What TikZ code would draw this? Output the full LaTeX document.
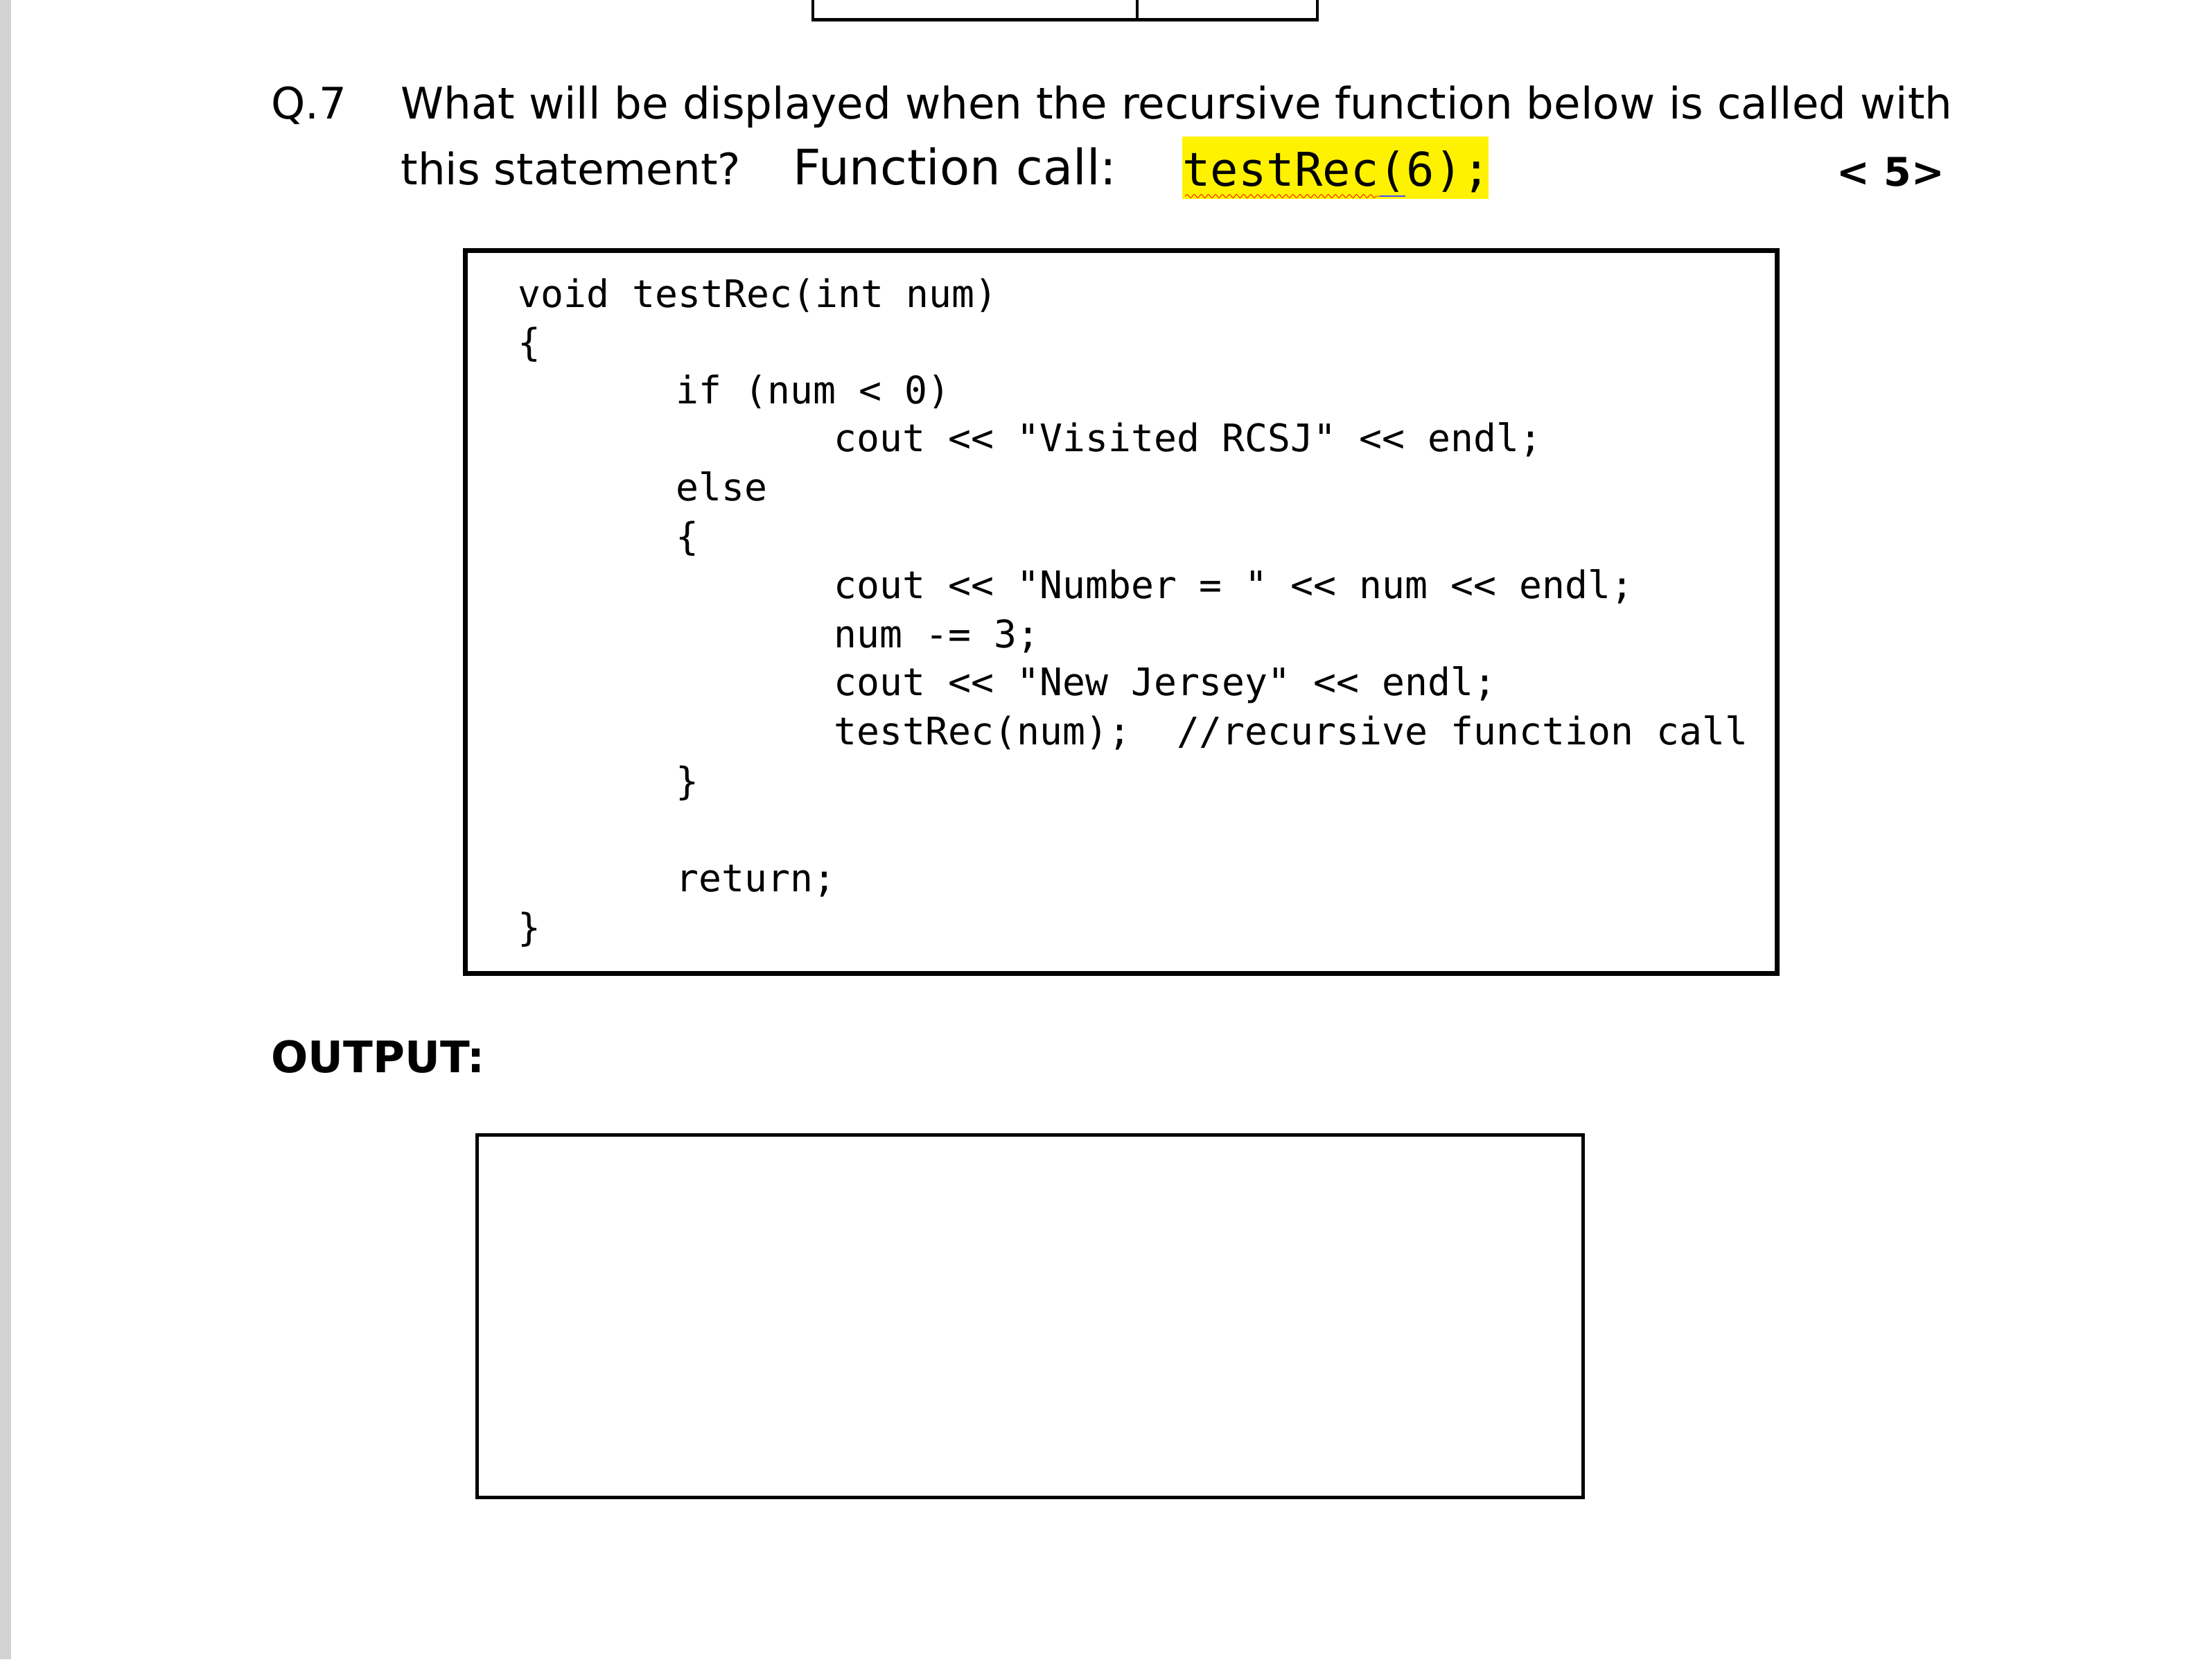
\documentclass[tikz,border=0pt]{standalone}
\usepackage{fontspec}
\setmainfont{DejaVu Sans}
\setmonofont{DejaVu Sans Mono}
\usetikzlibrary{decorations.pathmorphing}
\begin{document}
\begin{tikzpicture}[x=1pt,y=-1pt,
  q/.style={anchor=base west,inner sep=0pt,font=\fontsize{30.8}{36}\selectfont},
  code/.style={anchor=base west,inner sep=0pt,font=\ttfamily\fontsize{26.9}{32}\selectfont}]
\useasboundingbox (0,0) rectangle (1568,1176);
\fill[white] (0,0) rectangle (1568,1176);
\fill[gray!35] (0,0) rectangle (8,1176);
% top table fragment
\draw[line width=2] (576,-2) -- (576,14) -- (934,14) -- (934,-2);
\draw[line width=2] (806,-2) -- (806,14);
\node[q] (qn) at (192,84) {Q.7};
\node[q] (l1) at (284,84) {What will be displayed when the recursive function below is called with};
\node[q] (l2) at (284,131) {this statement?};
\node[q,font=\fontsize{34.6}{40}\selectfont] (fc) at (562,131) {Function call:};
\fill[yellow] (838,97) rectangle (1055,141);
\node[anchor=base west,inner sep=0pt,font=\ttfamily\fontsize{33}{40}\selectfont] (tr) at (838,132) {testRec(6);};
\draw[red,decorate,decoration={snake,amplitude=1.2,segment length=5}] (840,139) -- (978,139);
\draw[blue!70,line width=1.2] (978,139) -- (996,139);
\node[q,font=\bfseries\fontsize{28}{34}\selectfont] (pts) at (1302,132) {< 5>};
% code box
\node[draw,line width=3.5,minimum width=930,minimum height=512,anchor=north west,inner sep=0] (box) at (328,176) {};
\node[code] at (367,218) {void testRec(int num)};
\node[code] at (367,252) {\{};
\node[code] at (479,286) {if (num < 0)};
\node[code] at (591,320) {cout << "Visited RCSJ" << endl;};
\node[code] at (479,355) {else};
\node[code] at (479,390) {\{};
\node[code] at (591,424) {cout << "Number = " << num << endl;};
\node[code] at (591,459) {num -= 3;};
\node[code] at (591,493) {cout << "New Jersey" << endl;};
\node[code] at (591,528) {testRec(num);\ \ //recursive function call};
\node[code] at (479,563) {\}};
\node[code] at (479,632) {return;};
\node[code] at (367,667) {\}};
\node[q,font=\bfseries\fontsize{30.8}{36}\selectfont] (out) at (192,760) {OUTPUT:};
\node[draw,line width=2.5,minimum width=784,minimum height=257,anchor=north west,inner sep=0] (obox) at (337,803) {};
\end{tikzpicture}
\end{document}
